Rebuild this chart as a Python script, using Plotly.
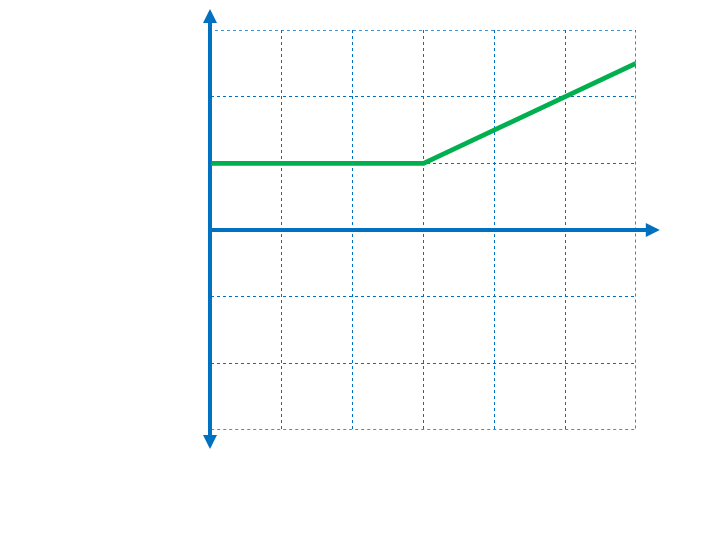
import plotly.graph_objects as go

# payoff-style line: flat, then rising
x_vals = [0, 3, 6]
y_vals = [1, 1, 2.5]

AXIS_BLUE = "#0070C0"
GREEN = "#00B050"

fig = go.Figure()

fig.add_trace(
    go.Scatter(x=x_vals, y=y_vals, mode="lines",
               line=dict(color=GREEN, width=4.7), cliponaxis=False)
)

# outer dotted border (edge gridlines get dropped by plotly)
fig.add_shape(type="rect", xref="x", yref="y", x0=0, x1=6, y0=-3, y1=3,
              line=dict(color=AXIS_BLUE, width=1.2, dash="dot"), layer="below")

# axis lines under the trace, arrowheads on top
axis_line = dict(type="line", xref="paper", yref="paper", layer="between",
                 line=dict(color=AXIS_BLUE, width=4))
fig.add_shape(x0=-0.0024, x1=1.035, y0=0.5, y1=0.5, **axis_line)
fig.add_shape(x0=-0.0024, x1=-0.0024, y0=-0.02, y1=1.035, **axis_line)

head = dict(xref="paper", yref="paper", text="", showarrow=True,
            arrowhead=2, arrowsize=0.7, arrowwidth=4, arrowcolor=AXIS_BLUE,
            standoff=0, startstandoff=0)
fig.add_annotation(x=1.056, y=0.5, ax=-16, ay=0, **head)
fig.add_annotation(x=-0.0024, y=1.0625, ax=0, ay=16, **head)
fig.add_annotation(x=-0.0024, y=-0.0475, ax=0, ay=-16, **head)

grid = dict(showgrid=True, gridcolor=AXIS_BLUE, gridwidth=1.2, griddash="dot",
            showticklabels=False, ticks="", zeroline=False, showline=False,
            dtick=1, tick0=0, fixedrange=True)
fig.update_xaxes(range=[-0.003, 6.003], **grid)
fig.update_yaxes(range=[-3.003, 3.003], **grid)

fig.update_layout(
    width=720, height=540,
    margin=dict(l=203, r=92, t=22, b=118),
    plot_bgcolor="white", paper_bgcolor="white",
    showlegend=False,
)

fig.write_html("out.html")
